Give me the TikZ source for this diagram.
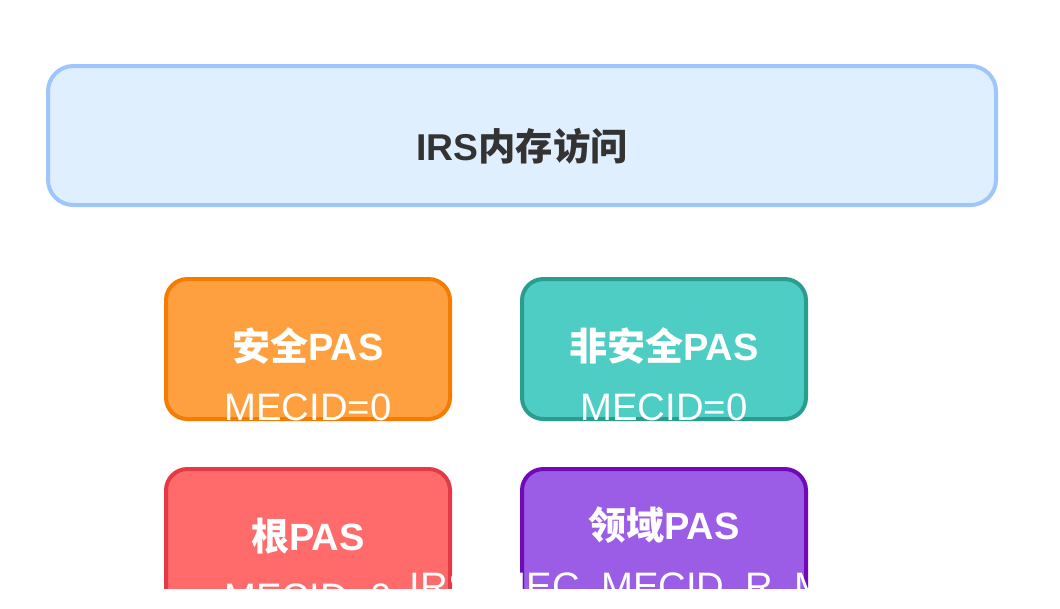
\documentclass[tikz,border=0pt]{standalone}
\usepackage{fontspec}
\setmainfont{Liberation Sans}
\newfontfamily\cjk{Noto Sans CJK SC}
\usepackage{tikz}
\definecolor{irsfill}{HTML}{E0EFFE}
\definecolor{irsline}{HTML}{9EC5FE}
\definecolor{secfill}{HTML}{FFA040}
\definecolor{secline}{HTML}{F57C00}
\definecolor{nsfill}{HTML}{4ECDC4}
\definecolor{nsline}{HTML}{2A9D8F}
\definecolor{rootfill}{HTML}{FF6B6B}
\definecolor{rootline}{HTML}{E63946}
\definecolor{realmfill}{HTML}{9B5DE5}
\definecolor{realmline}{HTML}{7209B7}
\tikzset{
  headbox/.style = {rounded corners=19pt, line width=3pt, inner sep=0pt,
    minimum width=711pt, minimum height=104.25pt},
  pasbox/.style = {rounded corners=16pt, line width=3pt, inner sep=0pt,
    minimum width=213pt, minimum height=105pt},
  pastitle/.style = {anchor=base, inner sep=0pt, text=white,
    font=\fontsize{28.5}{33}\selectfont\bfseries},
  pasid/.style = {anchor=base, inner sep=0pt, text=white,
    font=\fontsize{28.7}{33}\selectfont}
}

\begin{document}
\begin{tikzpicture}[x=0.75pt, y=-0.75pt]
\useasboundingbox (0,0) rectangle (1060,608);
\clip (0,0) rectangle (1060,588);
% header
\node [headbox, fill=irsfill, draw=irsline] (irs) at (522,135.5) {};
\node [anchor=base, inner sep=0pt, text=black!80,
  font=\fontsize{28}{33}\selectfont\bfseries] (irstitle) at (522,160)
  {IRS{\cjk 内存访问}};
% first row
\node [pasbox, fill=secfill, draw=secline] (secpas) at (308,349) {};
\node [pastitle] (sectitle) at (308,360) {{\cjk 安全}PAS};
\node [pasid] (secid) at (308,420) {MECID=0};
\node [pasbox, fill=nsfill, draw=nsline] (nspas) at (664,349) {};
\node [pastitle] (nstitle) at (664,360) {{\cjk 非安全}PAS};
\node [pasid] (nsid) at (664,420) {MECID=0};
% second row
\node [pasbox, fill=rootfill, draw=rootline] (rootpas) at (308,539) {};
\node [pastitle] (roottitle) at (308,550) {{\cjk 根}PAS};
\node [pasid] (rootid) at (308,610) {MECID=0};
\node [pasbox, fill=realmfill, draw=realmline] (realmpas) at (664,539) {};
\node [pastitle] (realmtitle) at (664,539) {{\cjk 领域}PAS};
\node [pasid] (realmid) at (664,599) {IRS\_MEC\_MECID\_R\_MECID};
\end{tikzpicture}
\end{document}
